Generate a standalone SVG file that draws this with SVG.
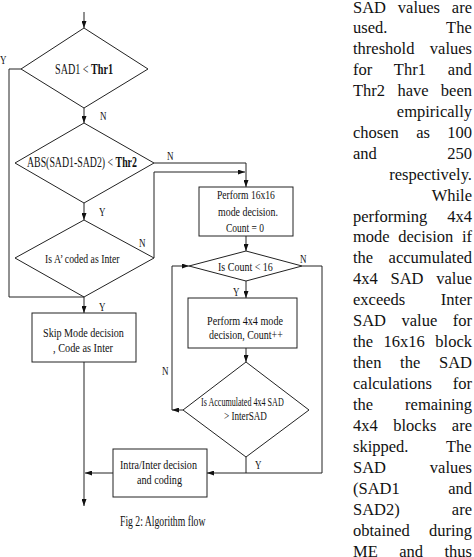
<svg xmlns="http://www.w3.org/2000/svg" width="474" height="557" viewBox="0 0 474 557">
<style>
.bg{fill:#fff}
.shape{fill:none;stroke:#222;stroke-width:1}
.ln{fill:none;stroke:#222;stroke-width:1}
.t{font-family:"Liberation Serif","Times New Roman",serif;font-size:13.5px;fill:#111}
.big{font-size:14.5px}
.s{font-size:13px}
.xs{font-size:12.5px}
.xxs{font-size:12px}
.b{font-weight:bold}
.lab{font-family:"Liberation Serif","Times New Roman",serif;font-size:12.5px;fill:#111}
.body{font-family:"Liberation Serif","Times New Roman",serif;font-size:16.5px;fill:#111}
.r{text-anchor:end}
</style>
<defs>
<marker id="ah" viewBox="0 0 7 5" refX="7" refY="2.5" markerWidth="7" markerHeight="5" markerUnits="userSpaceOnUse" orient="auto">
<path d="M0,0 L7,2.5 L0,5 z" fill="#111"/>
</marker>
</defs>
<rect class="bg" x="0" y="0" width="474" height="557"/>

<g id="connectors">
<line class="ln" x1="84" y1="12" x2="84" y2="28" marker-end="url(#ah)"/>
<line class="ln" x1="84" y1="108" x2="84" y2="123" marker-end="url(#ah)"/>
<line class="ln" x1="84" y1="203" x2="84" y2="220" marker-end="url(#ah)"/>
<polyline class="ln" points="21,69 9,69 9,297 84,297"/>
<line class="ln" x1="84" y1="297" x2="84" y2="313" marker-end="url(#ah)"/>
<line class="ln" x1="84" y1="362" x2="84" y2="506" marker-end="url(#ah)"/>
<polyline class="ln" points="154,163 246,163 246,187" marker-end="url(#ah)"/>
<polyline class="ln" points="154,258 154,172 245,172" marker-end="url(#ah)"/>
<line class="ln" x1="246" y1="236" x2="246" y2="251" marker-end="url(#ah)"/>
<line class="ln" x1="246" y1="281" x2="246" y2="298" marker-end="url(#ah)"/>
<line class="ln" x1="246" y1="348" x2="246" y2="362" marker-end="url(#ah)"/>
<line class="ln" x1="183" y1="410" x2="172" y2="410" marker-end="url(#ah)"/>
<polyline class="ln" points="172,410 172,266 189,266" marker-end="url(#ah)"/>
<polyline class="ln" points="302,266 322,266 322,473 207,473" marker-end="url(#ah)"/>
<line class="ln" x1="246" y1="457" x2="246" y2="473"/>
<line class="ln" x1="113" y1="473" x2="85" y2="473" marker-end="url(#ah)"/>
</g>

<g id="d1">
<polygon class="shape" points="84,28 148,69 84,108 21,69"/>
<text class="t big" transform="translate(55,74) scale(0.698,1)">SAD1 &lt; <tspan class="b">Thr1</tspan></text>
</g>
<g id="d2">
<polygon class="shape" points="84,123 154,163 84,203 15,163"/>
<text class="t big" transform="translate(27,167) scale(0.679,1)">ABS(SAD1-SAD2) &lt; <tspan class="b">Thr2</tspan></text>
</g>
<g id="d3">
<polygon class="shape" points="84,220 154,258 84,297 15,258"/>
<text class="t" transform="translate(45,263) scale(0.723,1)">Is A’ coded as Inter</text>
</g>
<g id="skip">
<rect class="shape" x="32" y="313" width="104" height="49"/>
<text class="t" transform="translate(43,337) scale(0.75,1)">Skip Mode decision</text>
<text class="t" transform="translate(53,352) scale(0.762,1)">, Code as Inter</text>
</g>
<g id="box16">
<rect class="shape" x="199" y="187" width="94" height="49"/>
<text class="t s" transform="translate(217,199) scale(0.74,1)">Perform 16x16</text>
<text class="t s" transform="translate(218,216) scale(0.762,1)">mode decision.</text>
<text class="t s" transform="translate(226,232) scale(0.729,1)">Count = 0</text>
</g>
<g id="dcount">
<polygon class="shape" points="246,251 302,266 246,281 189,266"/>
<text class="t s" transform="translate(218,270.5) scale(0.771,1)">Is Count &lt; 16</text>
</g>
<g id="box4">
<rect class="shape" x="188" y="298" width="109" height="50"/>
<text class="t xs" transform="translate(207,325) scale(0.811,1)">Perform 4x4 mode</text>
<text class="t xs" transform="translate(209,339) scale(0.799,1)">decision, Count++</text>
</g>
<g id="daccum">
<polygon class="shape" points="246,362 309,410 246,457 183,410"/>
<text class="t xxs" transform="translate(201,406) scale(0.674,1)">Is Accumulated 4x4 SAD</text>
<text class="t xxs" transform="translate(224,420) scale(0.762,1)">&gt; InterSAD</text>
</g>
<g id="intra">
<rect class="shape" x="113" y="449" width="94" height="48"/>
<text class="t" transform="translate(120,469) scale(0.747,1)">Intra/Inter decision</text>
<text class="t" transform="translate(137,484) scale(0.755,1)">and coding</text>
</g>

<g id="labels">
<text class="lab" transform="translate(0,64) scale(0.72,1)">Y</text>
<text class="lab" transform="translate(100,120) scale(0.72,1)">N</text>
<text class="lab" transform="translate(167,160) scale(0.72,1)">N</text>
<text class="lab" transform="translate(99,216) scale(0.72,1)">Y</text>
<text class="lab" transform="translate(139,247) scale(0.72,1)">N</text>
<text class="lab" transform="translate(99,311) scale(0.72,1)">Y</text>
<text class="lab" transform="translate(300,263) scale(0.72,1)">N</text>
<text class="lab" transform="translate(233,296) scale(0.72,1)">Y</text>
<text class="lab" transform="translate(162,375) scale(0.72,1)">N</text>
<text class="lab" transform="translate(255,469) scale(0.72,1)">Y</text>
</g>

<text class="t big" transform="translate(120,526) scale(0.67,1)">Fig 2: Algorithm flow</text>

<g id="body">
<text class="body" x="353" y="12.5" word-spacing="7.73">SAD values are</text>
<text class="body" x="353" y="32.95" word-spacing="54.85">used. The</text>
<text class="body" x="353" y="53.9" word-spacing="11.31">threshold values</text>
<text class="body" x="353" y="74.85" word-spacing="17.8">for Thr1 and</text>
<text class="body" x="353" y="95.8" word-spacing="8.19">Thr2 have been</text>
<text class="body r" x="472" y="116.75">empirically</text>
<text class="body" x="353" y="137.7" word-spacing="13.22">chosen as 100</text>
<text class="body" x="353" y="158.65" word-spacing="66.3">and 250</text>
<text class="body r" x="472" y="179.6">respectively.</text>
<text class="body r" x="472" y="200.55">While</text>
<text class="body" x="353" y="221.5" word-spacing="15.9">performing 4x4</text>
<text class="body" x="353" y="242.45" word-spacing="4.51">mode decision if</text>
<text class="body" x="353" y="263.4" word-spacing="11.32">the accumulated</text>
<text class="body" x="353" y="284.35" word-spacing="8.63">4x4 SAD value</text>
<text class="body" x="353" y="305.3" word-spacing="31.5">exceeds Inter</text>
<text class="body" x="353" y="326.25" word-spacing="11.39">SAD value for</text>
<text class="body" x="353" y="347.2" word-spacing="6.34">the 16x16 block</text>
<text class="body" x="353" y="368.15" word-spacing="14.59">then the SAD</text>
<text class="body" x="353" y="389.1" word-spacing="16.81">calculations for</text>
<text class="body" x="353" y="410.05" word-spacing="27.8">the remaining</text>
<text class="body" x="353" y="431" word-spacing="11.39">4x4 blocks are</text>
<text class="body" x="353" y="451.95" word-spacing="33.76">skipped. The</text>
<text class="body" x="353" y="472.9" word-spacing="39.72">SAD values</text>
<text class="body" x="353" y="493.85" word-spacing="44.3">(SAD1 and</text>
<text class="body" x="353" y="514.8" word-spacing="47.99">SAD2) are</text>
<text class="body" x="353" y="535.75" word-spacing="14.97">obtained during</text>
<text class="body" x="353" y="556.7" word-spacing="17.34">ME and thus</text>
</g>
</svg>
